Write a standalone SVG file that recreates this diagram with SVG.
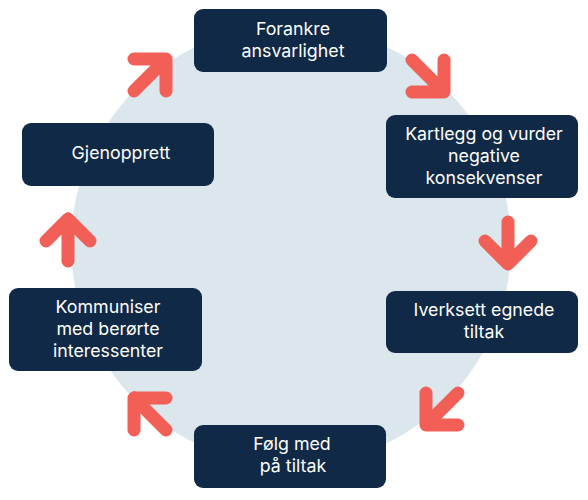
<svg xmlns="http://www.w3.org/2000/svg" width="588" height="500" viewBox="0 0 588 500">
<style>
.box{fill:#0f2946;}
.t{font-family:Inter,"Noto Sans","Liberation Sans",sans-serif;font-size:17.8px;fill:#ffffff;text-anchor:middle;}
.arr{fill:none;stroke:#f15f56;stroke-width:13;stroke-linecap:round;stroke-linejoin:round;}
</style>
<rect width="588" height="500" fill="#ffffff"/>
<circle cx="291" cy="245" r="220" fill="#dce6ed"/>
<g id="connectors">
<path class="arr" d="M134,91 L166,59 M134,59 L166,59 L166,91"/>
<path class="arr" d="M412,60 L444,92 M444,60 L444,92 L412,92"/>
<path class="arr" d="M508,222 L508,264 M485,241 L508,264 L531,241"/>
<path class="arr" d="M458,393 L426,425 M426,393 L426,425 L458,425"/>
<path class="arr" d="M166,430 L134,398 M166,398 L134,398 L134,430"/>
<path class="arr" d="M68,261 L68,219 M46,241 L68,219 L90,241"/>
</g>
<g id="n1"><rect class="box" x="194" y="9" width="193" height="63" rx="9"/>
<text class="t" x="293" y="35">Forankre</text><text class="t" x="293" y="57">ansvarlighet</text></g>
<g id="n2"><rect class="box" x="386" y="115" width="192" height="83" rx="9"/>
<text class="t" x="484" y="140">Kartlegg og vurder</text><text class="t" x="484" y="162">negative</text><text class="t" x="484" y="184">konsekvenser</text></g>
<g id="n3"><rect class="box" x="386" y="291" width="192" height="62" rx="9"/>
<text class="t" x="484" y="316">Iverksett egnede</text><text class="t" x="484" y="338">tiltak</text></g>
<g id="n4"><rect class="box" x="194" y="425" width="192" height="63" rx="9"/>
<text class="t" x="292" y="450">Følg med</text><text class="t" x="293" y="472">på tiltak</text></g>
<g id="n5"><rect class="box" x="9" y="288" width="193" height="83" rx="9"/>
<text class="t" x="108" y="313">Kommuniser</text><text class="t" x="108" y="335">med berørte</text><text class="t" x="108" y="357">interessenter</text></g>
<g id="n6"><rect class="box" x="22" y="123" width="192" height="63" rx="9"/>
<text class="t" x="121" y="159">Gjenopprett</text></g>
</svg>
